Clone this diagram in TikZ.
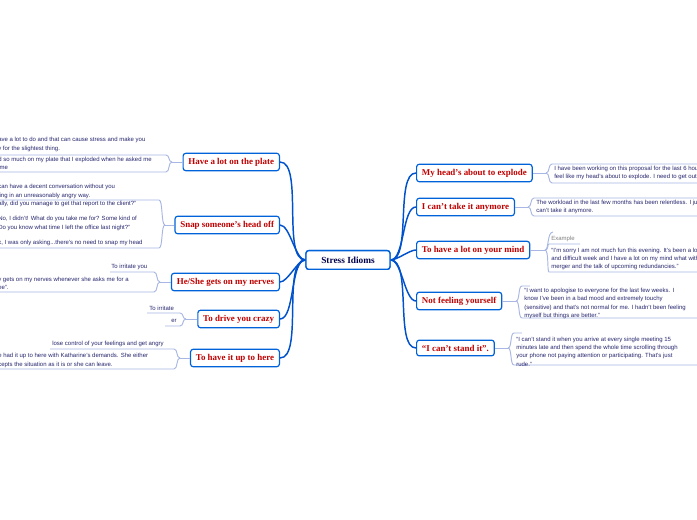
\documentclass[tikz,border=0pt]{standalone}
\usepackage{fontspec}
\setmainfont{Liberation Serif}
\setsansfont{Liberation Sans}
\begin{document}
\begin{tikzpicture}[x=0.75pt,y=-0.75pt,
 br/.style={draw=blue!60!cyan!80!black,line width=1.1pt},
 topic/.style={draw=blue!55!cyan!85!black,line width=0.9pt,rounded corners=2pt,fill=white,text=red!75!black,font=\bfseries\fontsize{6.7}{8}\selectfont,inner xsep=4pt,inner ysep=3.5pt},
 leaf/.style={font=\sffamily\fontsize{4.5}{6.2}\selectfont,text=black!60!blue!70!gray,align=left,inner sep=0pt},
 ul/.style={draw=cyan!40!blue!35,line width=0.7pt,rounded corners=3pt},
 cen/.style={draw=blue!55!cyan!85!black,line width=1pt,rounded corners=2pt,fill=white,text=black!70!blue,font=\bfseries\fontsize{7}{8}\selectfont,minimum width=63pt,minimum height=14pt}]
\useasboundingbox (0,0) rectangle (697,520);
\clip (0,0) rectangle (697,520);
\node[cen] (c) at (348,260) {Stress Idioms};
% left topics
\node[topic,anchor=east] (t1) at (280,162) {Have a lot on the plate};
\node[topic,anchor=east] (t2) at (280,225) {Snap someone’s head off};
\node[topic,anchor=east] (t3) at (280,282) {He/She gets on my nerves};
\node[topic,anchor=east] (t4) at (280,319) {To drive you crazy};
\node[topic,anchor=east] (t5) at (280,358) {To have it up to here};
% right topics
\node[topic,anchor=west] (r1) at (416,173) {My head’s about to explode};
\node[topic,anchor=west] (r2) at (416,207) {I can’t take it anymore};
\node[topic,anchor=west] (r3) at (416,250) {To have a lot on your mind};
\node[topic,anchor=west] (r4) at (416,301) {Not feeling yourself};
\node[topic,anchor=west] (r5) at (416,348) {“I can’t stand it”.};
% connectors
\foreach \t in {t1,t2,t3,t4,t5} \draw[br] (c) to[out=180,in=0,looseness=0.6] (\t.east);
\foreach \t in {r1,r2,r3,r4,r5} \draw[br] (c) to[out=0,in=180,looseness=0.6] (\t.west);
\node[cen] at (348,260) {Stress Idioms};
% ---- right leaves
\coordinate (b1) at (546,173);
\draw[ul] (r1.east) -- (b1);
\draw[ul] (b1) .. controls (550,173) and (548,164) .. (556,164) -- (700,164);
\draw[ul] (b1) .. controls (550,173) and (548,183) .. (556,183) -- (700,183);
\node[leaf,anchor=west] (l1) at (554,173) {I have been working on this proposal for the last 6 hours and I\\feel like my head’s about to explode. I need to get out.};
\coordinate (b2) at (528,207);
\draw[ul] (r2.east) -- (b2);
\draw[ul] (b2) .. controls (532,207) and (530,198) .. (538,198) -- (700,198);
\draw[ul] (b2) .. controls (532,207) and (530,216) .. (538,216) -- (700,216);
\node[leaf,anchor=west] (l2) at (536,207) {The workload in the last few months has been relentless. I just\\can’t take it anymore.};
\coordinate (b3) at (545,250);
\draw[ul] (r3.east) -- (b3);
\draw[ul] (b3) .. controls (549,250) and (547,232) .. (553,232);
\draw[ul] (b3) .. controls (549,250) and (547,244) .. (553,244) -- (580,244);
\draw[ul] (b3) .. controls (549,250) and (547,272) .. (553,272) -- (700,272);
\node[leaf,anchor=west,text=gray] at (551,239) {Example};
\node[leaf,anchor=west] (l3) at (551,259) {“I’m sorry I am not much fun this evening. It’s been a long\\and difficult week and I have a lot on my mind what with the\\merger and the talk of upcoming redundancies.”};
\coordinate (b4) at (516,301);
\draw[ul] (r4.east) -- (b4);
\draw[ul] (b4) .. controls (520,301) and (518,286) .. (526,286) -- (530,286);
\draw[ul] (b4) .. controls (520,301) and (518,318) .. (526,318) -- (700,318);
\node[leaf,anchor=west] (l4) at (524,303.5) {“I want to apologise to everyone for the last few weeks. I\\know I’ve been in a bad mood and extremely touchy\\(sensitive) and that’s not normal for me. I hadn’t been feeling\\myself but things are better.”};
\coordinate (b5) at (508,348);
\draw[ul] (r5.east) -- (b5);
\draw[ul] (b5) .. controls (512,348) and (510,333) .. (518,333) -- (522,333);
\draw[ul] (b5) .. controls (512,348) and (510,365) .. (518,365) -- (700,365);
\node[leaf,anchor=west] (l5) at (516,351.5) {“I can’t stand it when you arrive at every single meeting 15\\minutes late and then spend the whole time scrolling through\\your phone not paying attention or participating. That’s just\\rude.”};
% ---- left leaves
\node[leaf,anchor=west] at (-2,144.5) {ave a lot to do and that can cause stress and make you\\y for the slightest thing.};
\coordinate (a1) at (172,162);
\draw[ul] (t1.west) -- (a1);
\draw[ul] (a1) .. controls (168,162) and (170,155) .. (162,155) -- (-5,155);
\draw[ul] (a1) .. controls (168,162) and (170,172) .. (162,172) -- (-5,172);
\node[leaf,anchor=west] at (-2,163.5) {d so much on my plate that I exploded when he asked me\\ime};
\node[leaf,anchor=west] at (-2,191.5) {can have a decent conversation without you\\ling in an unreasonably angry way.};
\coordinate (a2) at (165,225);
\draw[ul] (t2.west) -- (a2);
\draw[ul] (a2) .. controls (161,225) and (163,200) .. (155,200) -- (-5,200);
\draw[ul] (a2) .. controls (161,225) and (163,248) .. (155,248) -- (-5,248);
\node[leaf,anchor=west] at (-2,223.5) {ally, did you manage to get that report to the client?”\\[5pt]No, I didn’t! What do you take me for? Some kind of\\Do you know what time I left the office last night?”\\[5pt]k, I was only asking...there’s no need to snap my head};
\coordinate (a3) at (160,282);
\draw[ul] (t3.west) -- (a3);
\draw[ul] (a3) .. controls (156,282) and (158,272) .. (150,272) -- (110,272);
\draw[ul] (a3) .. controls (156,282) and (158,292) .. (150,292) -- (-5,292);
\node[leaf,anchor=west] at (111,267) {To irritate you};
\node[leaf,anchor=west] at (-2,283.5) {y gets on my nerves whenever she asks me for a\\ee”.};
\coordinate (a4) at (186,319);
\draw[ul] (t4.west) -- (a4);
\draw[ul] (a4) .. controls (182,319) and (184,313) .. (176,313) -- (147,313);
\draw[ul] (a4) .. controls (182,319) and (184,326) .. (176,326) -- (165,326);
\node[leaf,anchor=west] at (149,308) {To irritate};
\node[leaf,anchor=west] at (171,321) {er};
\coordinate (a5) at (180,358);
\draw[ul] (t5.west) -- (a5);
\draw[ul] (a5) .. controls (176,358) and (178,349) .. (170,349) -- (50,349);
\draw[ul] (a5) .. controls (176,358) and (178,369) .. (170,369) -- (-5,369);
\node[leaf,anchor=west] at (52,344) {lose control of your feelings and get angry};
\node[leaf,anchor=west] at (-2,360.5) {e had it up to here with Katharine’s demands. She either\\cepts the situation as it is or she can leave.};
\end{tikzpicture}
\end{document}
